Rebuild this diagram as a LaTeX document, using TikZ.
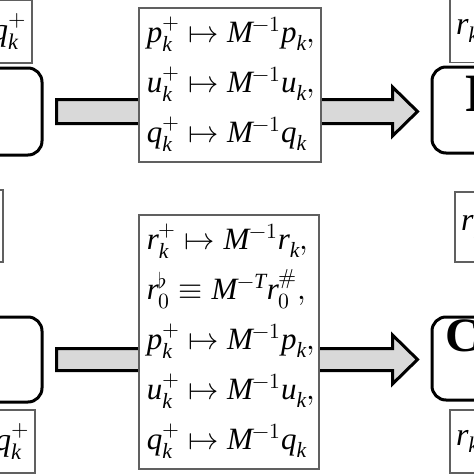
\documentclass[tikz,border=0pt]{standalone}
\usepackage{unicode-math}
\setmainfont{Liberation Serif}
\setmathfont{Latin Modern Math}
\setmathfont{Liberation Serif Italic}[range=it]
\usetikzlibrary{matrix}
\usetikzlibrary{calc}

\definecolor{boxgray}{RGB}{96,96,96}
\definecolor{arrowfill}{RGB}{217,217,217}

\tikzset{
  roundbox/.style={draw=black, line width=3pt, rounded corners=14pt, fill=white},
  smallbox/.style={draw=boxgray, line width=1.5pt, fill=white, inner xsep=6pt,
    font=\fontsize{32}{36}\selectfont},
  mapbox/.style={draw=boxgray, line width=1.5pt, fill=white, inner xsep=8pt, inner ysep=2pt},
  fatarrow/.style={draw=black, line width=3pt, fill=arrowfill, line join=miter},
  title/.style={font=\fontsize{54}{60}\selectfont\bfseries, inner sep=0pt},
}

\begin{document}
\begin{tikzpicture}[x=1pt, y=-1pt]
  \useasboundingbox (0,0) rectangle (474,474);
  \clip (0,0) rectangle (474,474);

  % rounded blocks
  \node[roundbox, minimum width=110pt, minimum height=87pt] (ltop) at (-13,111.5) {};
  \node[roundbox, minimum width=110pt, minimum height=85pt] (lbot) at (-13,359.5) {};
  \node[roundbox, minimum width=110pt, minimum height=86pt] (rtop) at (487,110) {};
  \node[roundbox, minimum width=110pt, minimum height=83pt] (rbot) at (487,358.5) {};

  \node[title, anchor=base west] at ($(rtop.north west)+(35,46)$) {P};
  \node[title, font=\fontsize{48}{54}\selectfont\bfseries, anchor=base west]
    at ($(rbot.north west)+(15,36)$) {C};

  % small boxes
  \node[smallbox, text width=72pt, align=right, minimum height=63pt] (qtop) at (-10,31.5) {$q_k^+$};
  \node[smallbox, text width=72pt, align=left, minimum height=63pt] (rtopsm) at (492,31) {$r_k$};
  \node[smallbox, minimum width=84pt, minimum height=72pt] (lmid) at (-39,226) {};
  \node[smallbox, text width=72pt, align=left, minimum height=70pt] (rmid) at (497,227) {$r_k$};
  \node[smallbox, text width=72pt, align=right, minimum height=63pt] (qbot) at (-7,441.5) {$q_k^+$};
  \node[smallbox, text width=72pt, align=left, minimum height=63pt] (rbotsm) at (492,441.5) {$r_k$};

  % fat arrows
  \draw[fatarrow] let \p1=($(ltop.east)+(13,0)$), \p2=($(rtop.west)+(-13,0)$) in
    (\x1,\y1+12) -- (\x2-25,\y1+12) -- (\x2-25,\y1+24.5) -- (\x2,\y1)
    -- (\x2-25,\y1-24.5) -- (\x2-25,\y1-12) -- (\x1,\y1-12) -- cycle;
  \draw[fatarrow] let \p1=($(lbot.east)+(13,0)$), \p2=($(rbot.west)+(-13,0)$) in
    (\x1,\y1+11) -- (\x2-25,\y1+11) -- (\x2-25,\y1+24.5) -- (\x2,\y1)
    -- (\x2-25,\y1-24.5) -- (\x2-25,\y1-11) -- (\x1,\y1-11) -- cycle;

  % preconditioner maps
  \matrix [
    mapbox, matrix of math nodes, anchor=north west,
    nodes={text width=166pt, align=left, text height=33pt, text depth=17pt,
      inner sep=0pt, font=\fontsize{31}{36}\selectfont},
  ] (topmap) at (138,7) {
    p_k^+ \mapsto M^{-1} p_k, \\
    u_k^+ \mapsto M^{-1} u_k, \\
    q_k^+ \mapsto M^{-1} q_k \\
  };

  \matrix [
    mapbox, matrix of math nodes, anchor=north west,
    nodes={text width=164pt, align=left, text height=33pt, text depth=17pt,
      inner sep=0pt, font=\fontsize{31}{36}\selectfont},
  ] (botmap) at (138,214) {
    r_k^+ \mapsto M^{-1} r_k, \\
    r_0^\flat \equiv M^{-T} r_0^\#, \\
    p_k^+ \mapsto M^{-1} p_k, \\
    u_k^+ \mapsto M^{-1} u_k, \\
    q_k^+ \mapsto M^{-1} q_k \\
  };
\end{tikzpicture}
\end{document}
